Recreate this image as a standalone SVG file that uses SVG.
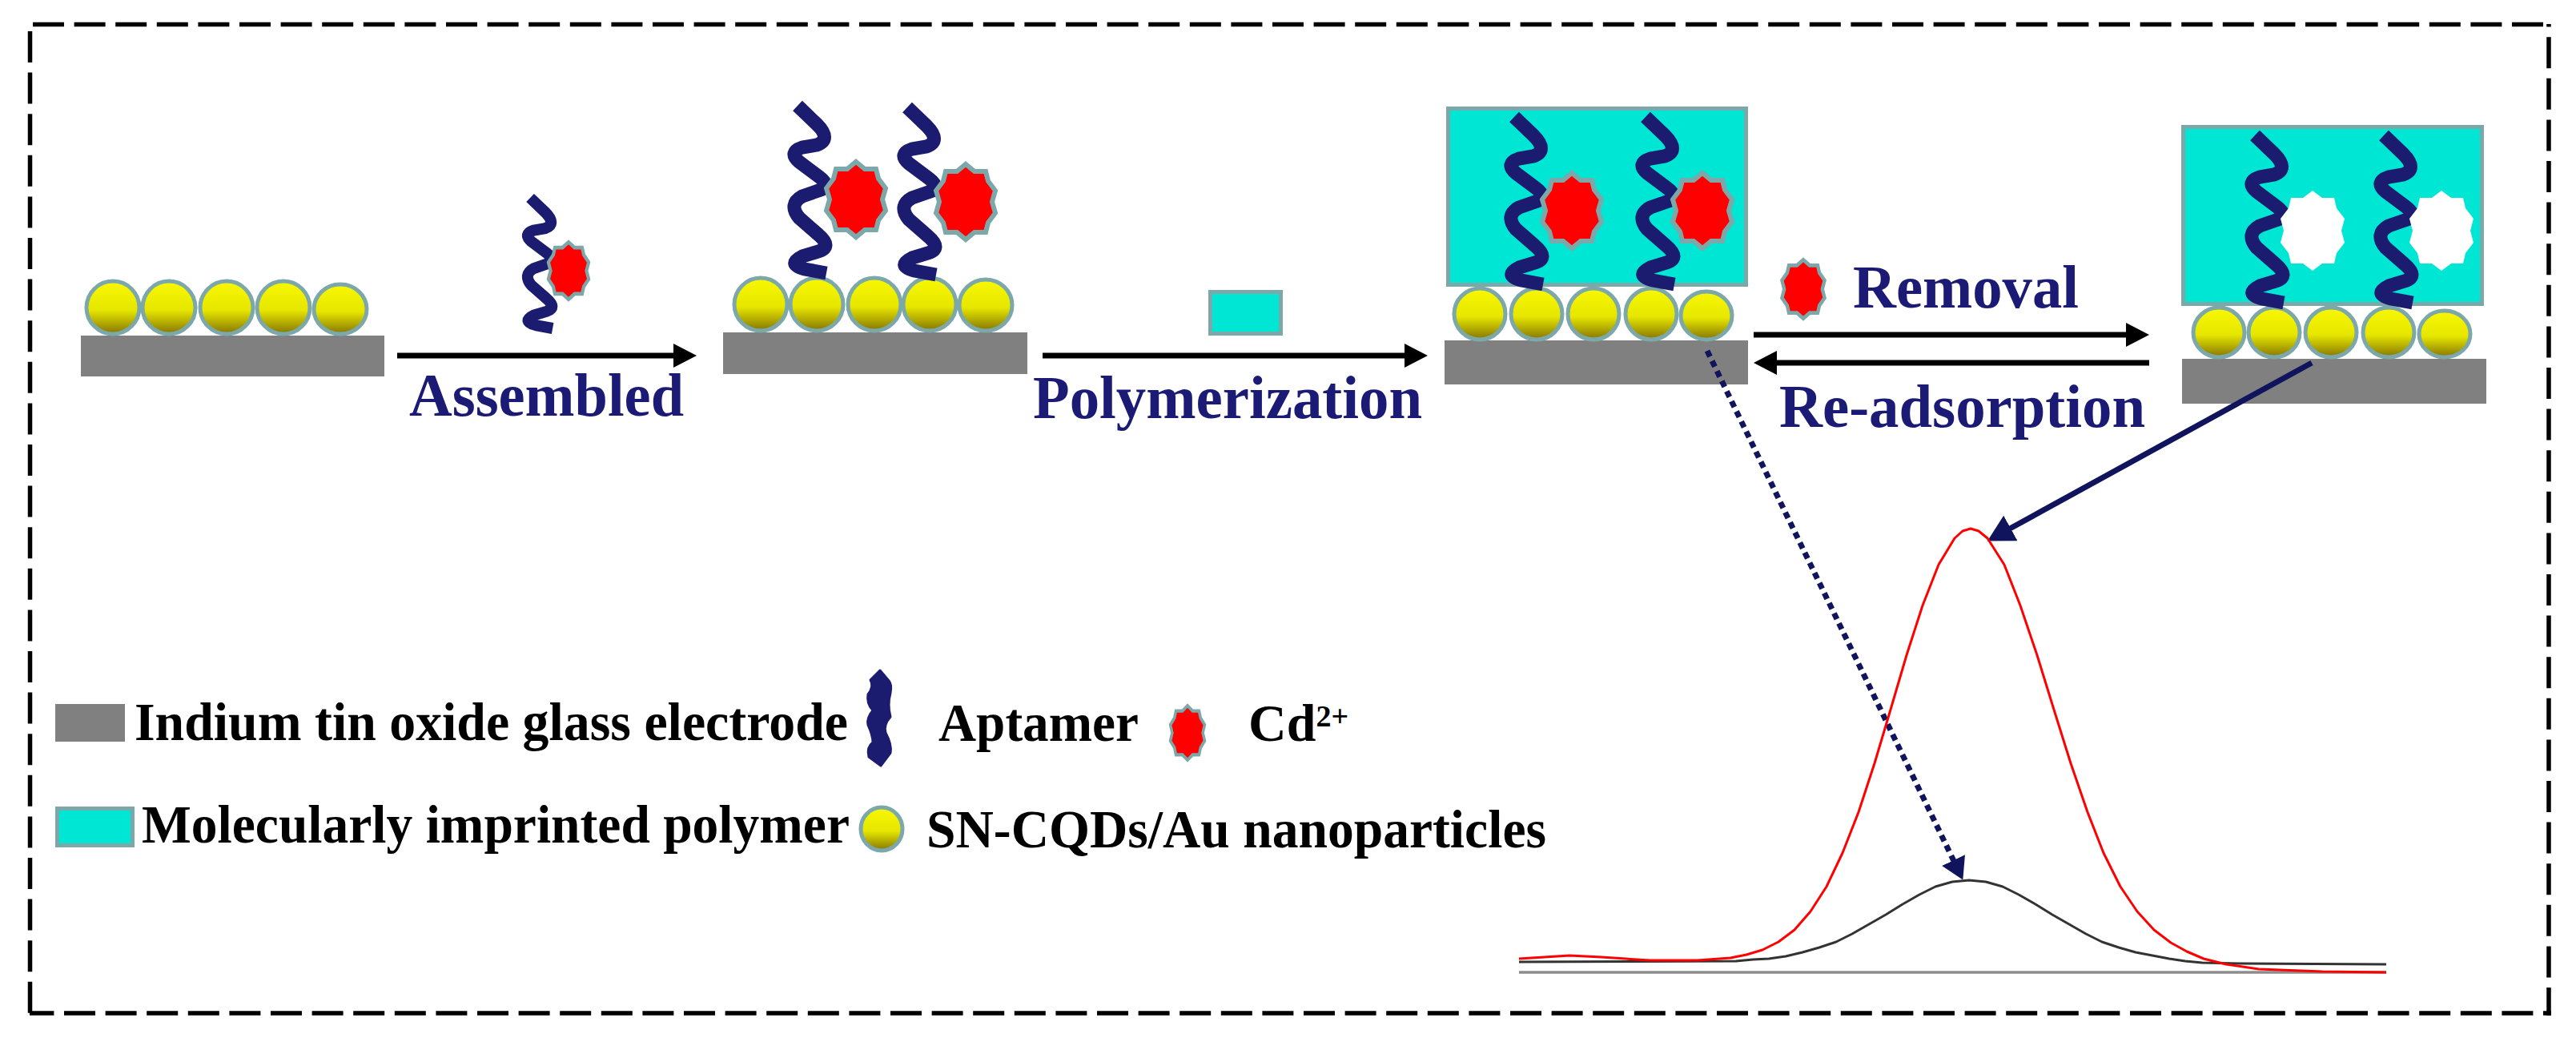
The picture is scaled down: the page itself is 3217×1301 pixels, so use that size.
<svg xmlns="http://www.w3.org/2000/svg" width="3217" height="1301" viewBox="0 0 3217 1301">
<style>
text{font-family:"Liberation Serif","Times New Roman",serif;font-weight:700}
.lab{font-size:76px;fill:#1b1b75}
.leg{font-size:68px;fill:#000}
.el{fill:#808080}
.np{fill:url(#npg);stroke:#7ca8aa;stroke-width:5}
.mip{fill:#00e6d4;stroke:#7ca8aa;stroke-width:5}
.ion{fill:#f00;stroke:#7ca8aa;stroke-width:6;vector-effect:non-scaling-stroke}
.hole{fill:#fff}
.apt{fill:none;stroke:#1b1b6f;stroke-width:17}
.arr{fill:none;stroke:#000;stroke-width:7}
.nav{fill:none;stroke:#10145c;stroke-width:7}
.border{fill:none;stroke:#000;stroke-width:5.5;stroke-dasharray:39 12.6}
.curve{fill:none;stroke-linejoin:round;stroke-width:3}
</style>
<defs>
<linearGradient id="npg" x1="0" y1="0" x2="0" y2="1"><stop offset="0" stop-color="#f8f800"/><stop offset=".55" stop-color="#e6e600"/><stop offset="1" stop-color="#857500"/></linearGradient>
<path id="aptamer" d="M36 32L60 55Q79 74 60 81L42 84Q24 90 38 102L62 120Q80 133 62 138L42 145Q24 155 38 172L62 193Q80 208 62 214L42 220Q22 230 45 236L72 241"/>
<polygon id="star" points="0,-47 11,-38 25,-38 28,-26 37,-14 33,0 37,14 28,26 25,38 11,38 0,47 -11,38 -25,38 -28,26 -37,14 -33,0 -37,-14 -28,-26 -25,-38 -11,-38"/>
<polygon id="starh" points="0,-50 12,-41 27,-41 30,-28 40,-15 36,0 40,15 30,28 27,41 12,41 0,50 -12,41 -27,41 -30,28 -40,15 -36,0 -40,-15 -30,-28 -27,-41 -12,-41"/>
<marker id="headK" markerUnits="userSpaceOnUse" markerWidth="30" markerHeight="30" viewBox="0 0 30 30" refX="1" refY="15" orient="auto"><path d="M0 0L29 15L0 30Z" fill="#000"/></marker>
<marker id="headN" markerUnits="userSpaceOnUse" markerWidth="34" markerHeight="36" viewBox="0 0 34 36" refX="1" refY="18" orient="auto"><path d="M0 0L33 18L0 36Z" fill="#10145c"/></marker>
<marker id="headD" markerUnits="userSpaceOnUse" markerWidth="28" markerHeight="32" viewBox="0 0 28 32" refX="1" refY="16" orient="auto"><path d="M0 0L27 16L0 32Z" fill="#10145c"/></marker>
</defs>
<rect width="3217" height="1301" fill="#fff"/>
<g id="border">
<path class="border" d="M41 30.5H3183"/>
<path class="border" style="stroke-dashoffset:4" d="M3183 1268V30"/>
<path class="border" style="stroke-dashoffset:29" d="M3186 1265H37"/>
<path class="border" d="M37.5 39V1265"/>
</g>
<g id="stage1">
<rect class="el" x="101" y="419" width="379" height="51"/>
<ellipse class="np" cx="141" cy="384" rx="33" ry="33"/><ellipse class="np" cx="211" cy="384" rx="33" ry="33"/><ellipse class="np" cx="283" cy="384" rx="33" ry="33"/><ellipse class="np" cx="354" cy="384" rx="33" ry="33"/><ellipse class="np" cx="425" cy="386" rx="33" ry="31"/>
</g>
<g id="reagent-aptamer-cd">
<use class="apt" style="stroke-width:18" href="#aptamer" transform="translate(634 222) scale(.78)"/>
<use class="ion" href="#star" transform="translate(710 338) scale(.68 .76)"/>
</g>
<g id="stage2">
<rect class="el" x="903" y="415" width="380" height="52"/>
<ellipse class="np" cx="950" cy="380" rx="33" ry="33"/><ellipse class="np" cx="1020" cy="380" rx="33" ry="33"/><ellipse class="np" cx="1092" cy="380" rx="33" ry="33"/><ellipse class="np" cx="1161" cy="380" rx="33" ry="33"/><ellipse class="np" cx="1231" cy="381" rx="33" ry="32"/>
<use class="apt" href="#aptamer" transform="translate(960 100)"/>
<use class="apt" href="#aptamer" transform="translate(1097 102)"/>
<use class="ion" href="#star" transform="translate(1069 249)"/>
<use class="ion" href="#star" transform="translate(1206 252)"/>
</g>
<g id="reagent-polymer"><rect class="mip" x="1511.5" y="364.5" width="88" height="52"/></g>
<g id="stage3">
<rect class="el" x="1804" y="425" width="379" height="55"/>
<ellipse class="np" cx="1848" cy="392" rx="32" ry="32"/><ellipse class="np" cx="1919" cy="392" rx="32" ry="32"/><ellipse class="np" cx="1990" cy="392" rx="32" ry="32"/><ellipse class="np" cx="2062" cy="392" rx="32" ry="32"/><ellipse class="np" cx="2131" cy="394" rx="32" ry="30"/>
<rect class="mip" x="1808.5" y="135.5" width="372" height="220"/>
<use class="apt" href="#aptamer" transform="translate(1855 114)"/>
<use class="apt" href="#aptamer" transform="translate(2019 114)"/>
<use class="ion" href="#star" transform="translate(1963 263)"/>
<use class="ion" href="#star" transform="translate(2126 263)"/>
</g>
<g id="stage4">
<rect class="el" x="2725" y="448" width="380" height="56"/>
<ellipse class="np" cx="2771" cy="415" rx="32" ry="31"/><ellipse class="np" cx="2840" cy="415" rx="32" ry="31"/><ellipse class="np" cx="2911" cy="415" rx="32" ry="31"/><ellipse class="np" cx="2983" cy="415" rx="32" ry="31"/><ellipse class="np" cx="3053" cy="417" rx="32" ry="29"/>
<rect class="mip" x="2726.5" y="158.5" width="373" height="221"/>
<use class="apt" href="#aptamer" transform="translate(2780 137)"/>
<use class="apt" href="#aptamer" transform="translate(2941 137)"/>
<use class="hole" href="#starh" transform="translate(2888 288)"/>
<use class="hole" href="#starh" transform="translate(3049 288)"/>
</g>
<g id="removal-ion"><use class="ion" href="#star" transform="translate(2252 361) scale(.72 .78)"/></g>
<g id="connectors">
<path class="arr" d="M496 444H842" marker-end="url(#headK)"/>
<path class="arr" d="M1302 444H1755" marker-end="url(#headK)"/>
<path class="arr" d="M2190 418H2656" marker-end="url(#headK)"/>
<path class="arr" d="M2684 453H2218" marker-end="url(#headK)"/>
<path class="nav" d="M2887 453L2510 660" marker-end="url(#headN)"/>
<path class="nav" style="stroke-dasharray:8 6" d="M2132 438L2440 1075" marker-end="url(#headD)"/>
</g>
<g id="labels">
<text class="lab" x="511" y="519" textLength="343" lengthAdjust="spacingAndGlyphs">Assembled</text>
<text class="lab" x="1290" y="522" textLength="486" lengthAdjust="spacingAndGlyphs">Polymerization</text>
<text class="lab" x="2314" y="384" textLength="282" lengthAdjust="spacingAndGlyphs">Removal</text>
<text class="lab" x="2222" y="533" textLength="457" lengthAdjust="spacingAndGlyphs">Re-adsorption</text>
</g>
<g id="legend-electrode">
<rect class="el" x="69" y="879" width="87" height="47"/>
<text class="leg" x="168" y="924" textLength="891" lengthAdjust="spacingAndGlyphs">Indium tin oxide glass electrode</text>
</g>
<g id="legend-polymer">
<rect class="mip" x="71.5" y="1009.5" width="94" height="46"/>
<text class="leg" x="177" y="1052" textLength="884" lengthAdjust="spacingAndGlyphs">Molecularly imprinted polymer</text>
</g>
<g id="legend-aptamer">
<path fill="#1b1b6f" stroke="#1b1b6f" stroke-width="3" stroke-linejoin="round" d="M1099 837L1087 849Q1092 857 1084 867Q1082 878 1090 887Q1082 897 1084 905Q1090 918 1090 927Q1082 933 1085 945L1100 956L1112 940Q1114 930 1106 915Q1103 905 1112 895Q1108 880 1112 865Q1114 855 1110 850Z"/>
<text class="leg" x="1172" y="925" textLength="250" lengthAdjust="spacingAndGlyphs">Aptamer</text>
</g>
<g id="legend-cd">
<use class="ion" href="#star" transform="translate(1483 915) scale(.58 .72)"/>
<text class="leg" x="1559" y="925" style="font-size:66px">Cd<tspan dy="-18" style="font-size:38px">2+</tspan></text>
</g>
<g id="legend-nanoparticle">
<ellipse class="np" cx="1101" cy="1035" rx="26" ry="27"/>
<text class="leg" x="1157" y="1058" textLength="774" lengthAdjust="spacingAndGlyphs">SN-CQDs/Au nanoparticles</text>
</g>
<g id="chart">
<path d="M1897 1214H2980" fill="none" stroke="#8c8c8c" stroke-width="3.5"/>
<path class="curve" stroke="#333" d="M1897 1201L2168 1200L2189 1198L2209 1197L2230 1194L2251 1189L2272 1183L2293 1176L2313 1166L2334 1154L2355 1142L2376 1129L2397 1117L2417 1107L2438 1101L2459 1099L2480 1101L2501 1107L2521 1117L2542 1129L2563 1142L2584 1154L2605 1166L2625 1176L2646 1183L2667 1189L2688 1193L2709 1197L2729 1200L2750 1202L2800 1203L2980 1204"/>
<path class="curve" stroke="#f00" d="M1897 1197L1960 1193L2000 1195L2060 1199L2120 1199L2161 1196L2181 1192L2201 1186L2221 1176L2241 1161L2261 1138L2281 1107L2301 1065L2321 1014L2341 953L2361 886L2381 818L2401 756L2421 705L2441 672L2451 663L2461 660L2471 663L2482 672L2503 705L2523 756L2544 818L2565 886L2586 953L2607 1014L2627 1065L2648 1107L2669 1138L2690 1161L2711 1177L2731 1188L2752 1197L2780 1204L2821 1210L2900 1213L2980 1214"/>
</g>
</svg>
